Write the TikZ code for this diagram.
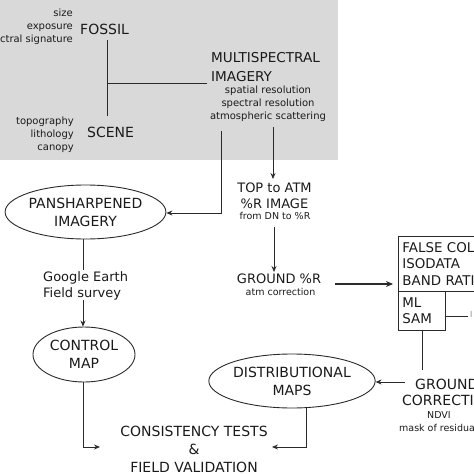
\documentclass[tikz,border=0pt]{standalone}
\usepackage{fontspec}
\setmainfont{DejaVu Sans}
\usetikzlibrary{shapes.geometric,arrows.meta}
\definecolor{bggray}{HTML}{D9D9D9}
\definecolor{ln}{HTML}{2A2A2A}
\definecolor{txt}{HTML}{1A1A1A}
\begin{document}
\begin{tikzpicture}[x=1pt,y=-1pt,
  big/.style={font=\fontsize{14}{18}\selectfont, text=txt, inner sep=0pt, align=center},
  mid/.style={font=\fontsize{13}{16}\selectfont, text=txt, inner sep=0pt},
  small/.style={font=\fontsize{10}{12.8}\selectfont, text=txt, inner sep=0pt},
  tiny/.style={font=\fontsize{9.5}{12.5}\selectfont, text=txt, inner sep=0pt},
  oval/.style={ellipse, draw=ln, line width=0.9pt, inner sep=0pt, big},
  boxed/.style={draw=ln, line width=0.8pt, inner sep=4pt, align=left, anchor=north west,
    font=\fontsize{13.4}{16.5}\selectfont, text=txt},
  conn/.style={draw=ln, line width=0.8pt},
  arr/.style={conn, -{Stealth[length=6pt,width=5pt]}},
]
\useasboundingbox (0,0) rectangle (474,474);
\clip (0,0) rectangle (474,474);
\fill[bggray] (0,0) rectangle (338,160);

% top panel
\node[small, anchor=east, align=right] (fprops) at (73,27) {size\\exposure\\spectral signature};
\node[big, anchor=west] (fossil) at (80,29) {FOSSIL};
\node[big, anchor=west] (scene) at (87,132) {SCENE};
\node[small, anchor=east, align=right] (sprops) at (74,135) {topography\\lithology\\canopy};
\node[font=\fontsize{13.6}{19}\selectfont, text=txt, inner sep=0pt, anchor=west, align=left] (multi) at (211,67.5) {MULTISPECTRAL\\IMAGERY};
\node[small, align=center] (mprops) at (268,104) {spatial resolution\\spectral resolution\\atmospheric scattering};

\coordinate (fsTop) at (107,40);
\coordinate (fsBot) at (107,116);
\coordinate (fsMid) at (107,83);
\coordinate (mEnd) at (207,83);
\draw[conn] (fsTop) -- (fsBot);
\draw[conn] (fsMid) -- (mEnd);

% right chain
\node[mid, align=center] (top) at (274.5,196) {TOP to ATM\\\%R IMAGE};
\node[tiny] (topsub) at (275,216) {from DN to \%R};
\node[mid] (ground) at (279,279) {GROUND \%R};
\node[tiny] (groundsub) at (280.5,292) {atm correction};

\coordinate (mA) at (273,127);
\coordinate (tA) at (273,179);
\draw[arr] (mA) -- (tA);
\coordinate (tB) at (274,227);
\coordinate (gT) at (274,272);
\draw[arr] (tB) -- (gT);

% classification boxes
\node[boxed, minimum width=100pt, minimum height=55pt, text width=92pt] (box1) at (398,236) {FALSE COLOR\\ISODATA\\BAND RATIO};
\node[boxed, minimum width=47pt, minimum height=39pt, text width=39pt] (box2) at (398,291) {ML\\SAM};

\coordinate (gA) at (335,284);
\coordinate (gB) at (393,284);
\draw[conn, line width=1.5pt, -{Stealth[length=7pt,width=6pt]}] (gA) -- (gB);

\coordinate (libEnd) at (468,316);
\draw[conn] (box2.east |- libEnd) -- (libEnd);
\node[font=\fontsize{8}{10}\selectfont, text=gray, inner sep=0pt, anchor=west] (lib) at (470,314) {l};

\coordinate (gcTop) at (422,370);
\draw[conn] (box2.south -| gcTop) -- (gcTop);

\node[big, anchor=west] (gc1) at (415,384) {GROUND};
\node[big, anchor=west] (gc2) at (402,400) {CORRECTION};
\node[tiny] (gc3) at (439,415) {NDVI};
\node[tiny, anchor=west] (gc4) at (399,428) {mask of residuals};

% ellipses
\node[oval, minimum width=141pt, minimum height=54pt] (pan) at (85.5,212) {PANSHARPENED\\IMAGERY};
\node[oval, minimum width=102pt, minimum height=55pt] (ctrl) at (84,354.5) {CONTROL\\MAP};
\node[oval, minimum width=140pt, minimum height=54pt] (dist) at (292,381) {DISTRIBUTIONAL\\MAPS};

\node[mid, anchor=west, align=left] (google) at (43,286) {Google Earth\\Field survey};

\node[big, font=\fontsize{14}{18}\selectfont] (cons) at (194,449) {CONSISTENCY TESTS\\\&\\FIELD VALIDATION};

% connectors
\coordinate (mpA) at (221,131);
\coordinate (mpB) at (221,213);
\draw[arr] (mpA) -- (mpB) -- (pan.east |- mpB);

\coordinate (pB) at (83,270);
\draw[conn] (pan.south -| pB) -- (pB);
\coordinate (gcA) at (83,300);
\draw[arr] (gcA) -- (ctrl.north -| gcA);

\coordinate (cB) at (83,447);
\coordinate (cT) at (100,447);
\draw[arr] (ctrl.south -| cB) -- (cB) -- (cT);

\coordinate (dB) at (306,447);
\coordinate (dT) at (272,447);
\draw[arr] (dist.south -| dB) ++(0,0) -- (dB) -- (dT);

\coordinate (gcL) at (405,382);
\draw[arr] (gcL) -- (dist.east |- gcL);
\end{tikzpicture}
\end{document}
